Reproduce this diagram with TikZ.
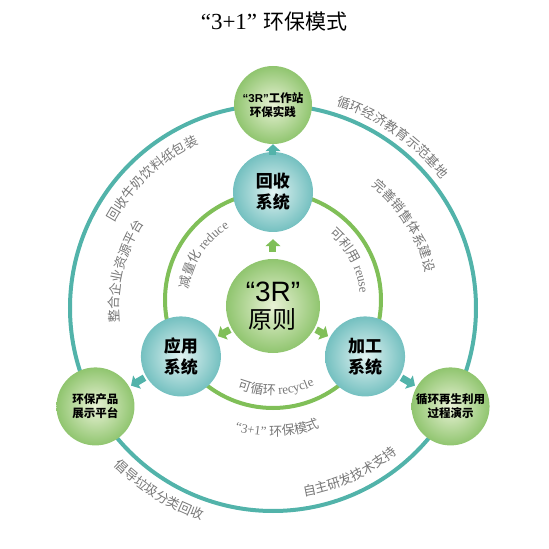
\documentclass[tikz,border=0pt]{standalone}
\usepackage{fontspec}
\setmainfont{Noto Sans CJK SC}
\newfontfamily\latinfont{Liberation Serif}
\newfontfamily\latinsans{Liberation Sans}
\usetikzlibrary{arrows.meta,decorations.text}

\definecolor{ringteal}{HTML}{52B3AA}
\definecolor{ringgreen}{HTML}{80BF58}
\definecolor{ballgreen}{HTML}{90C56F}
\definecolor{ballgreenlight}{HTML}{E9F2D6}
\definecolor{ballteal}{HTML}{74C0C0}
\definecolor{balltealight}{HTML}{E2F3F2}
\definecolor{lblgray}{HTML}{777777}

\newcommand\lblfont{\fontsize{13}{13}\selectfont}

\begin{document}
\begin{tikzpicture}[x=1pt,y=1pt,
  outball/.style={circle,minimum size=78pt,inner sep=0pt,shading=radial,inner color=ballgreenlight,outer color=ballgreen,align=center,font=\bfseries\fontsize{11.5}{14}\selectfont},
  inball/.style={circle,minimum size=80pt,inner sep=0pt,shading=radial,inner color=balltealight,outer color=ballteal,align=center,font=\bfseries\fontsize{17}{21}\selectfont},
  coreball/.style={circle,minimum size=94pt,inner sep=0pt,shading=radial,inner color=ballgreenlight,outer color=ballgreen,align=center,font=\fontsize{24}{27}\selectfont},
  outring/.style={ringteal,line width=4pt},
  inring/.style={ringgreen,line width=4pt},
  linkarrow/.style={ringteal,line width=7pt,-{Triangle[width=15pt,length=7pt]}},
  corearrow/.style={ringgreen,line width=7pt,-{Triangle[width=15pt,length=7pt]}},
  arclabel/.style={decorate,decoration={text along path,text align=center,text color=lblgray}}
]
\useasboundingbox (-273,-249) rectangle (276,300);

\node (title) at (1,278) {\fontsize{21}{21}\selectfont{\latinfont\fontsize{23}{23}\selectfont “3+1”}\hspace{6pt}环保模式};

\coordinate (g) at (0,0);
\coordinate (oc) at (0,-8);

% rings
\draw[outring] (oc) circle (203);
\draw[inring] (g) circle (108);

% outer ring labels
\path[arclabel,decoration={text={|\lblfont|回收牛奶饮料纸包装}}] ([shift={(173:180)}]oc) arc[start angle=173,end angle=93,radius=180];
\path[arclabel,decoration={text={|\lblfont|整合企业资源平台}}] ([shift={(206:154)}]oc) arc[start angle=206,end angle=126,radius=154];
\path[arclabel,decoration={text={|\lblfont|循环经济教育示范基地}}] ([shift={(95:212)}]oc) arc[start angle=95,end angle=15,radius=212];
\path[arclabel,decoration={text={|\lblfont|完善销售体系建设}}] ([shift={(72:157)}]oc) arc[start angle=72,end angle=-8,radius=157];
\path[arclabel,decoration={text={|\lblfont|倡导垃圾分类回收}}] ([shift={(198:224)}]oc) arc[start angle=198,end angle=278,radius=224];
\path[arclabel,decoration={text={|\lblfont|自主研发技术支持}}] ([shift={(255:191)}]oc) arc[start angle=255,end angle=335,radius=191];

% inner ring labels
\path[arclabel,decoration={text={|\lblfont|减量化 |\lblfont\latinfont|reduce}}] (197:84.5) arc[start angle=197,end angle=97,radius=84.5];
\path[arclabel,decoration={text={|\lblfont|可利用 |\lblfont\latinfont|reuse}}] (77:87) arc[start angle=77,end angle=-23,radius=87];
\path[arclabel,decoration={text={|\lblfont|可循环 |\lblfont\latinfont|recycle}}] (222:95) arc[start angle=222,end angle=322,radius=95];
\path[arclabel,decoration={text={|\lblfont\latinfont|“3+1” |\lblfont|环保模式}}] (232:136) arc[start angle=232,end angle=312,radius=136];

% balls
\node[outball] (top) at ([shift={(90:203)}]oc) {{\latinsans “3R”}工作站\\环保实践};
\node[outball] (lft) at ([shift={(209:203)}]oc) {环保产品\\展示平台};
\node[outball] (rgt) at ([shift={(331:203)}]oc) {循环再生利用\\过程演示};

\node[inball] (rec) at (90:108) {回收\\系统};
\node[inball] (app) at (211.5:108) {应用\\系统};
\node[inball] (pro) at (328.5:108) {加工\\系统};

\node[coreball] (core) at (0,-6) {{\latinsans\fontsize{28}{27}\selectfont “3R”}\\原则};

% arrows
\draw[corearrow,shorten <=7pt,shorten >=7pt] (core) -- (rec);
\draw[corearrow,shorten <=2pt,shorten >=2pt] (core) -- (app);
\draw[corearrow,shorten <=2pt,shorten >=2pt] (core) -- (pro);
\draw[linkarrow,shorten <=-3pt] (rec) -- (top);
\draw[linkarrow,shorten <=2pt,shorten >=2pt] (app) -- (lft);
\draw[linkarrow,shorten <=2pt,shorten >=2pt] (pro) -- (rgt);

\end{tikzpicture}
\end{document}
